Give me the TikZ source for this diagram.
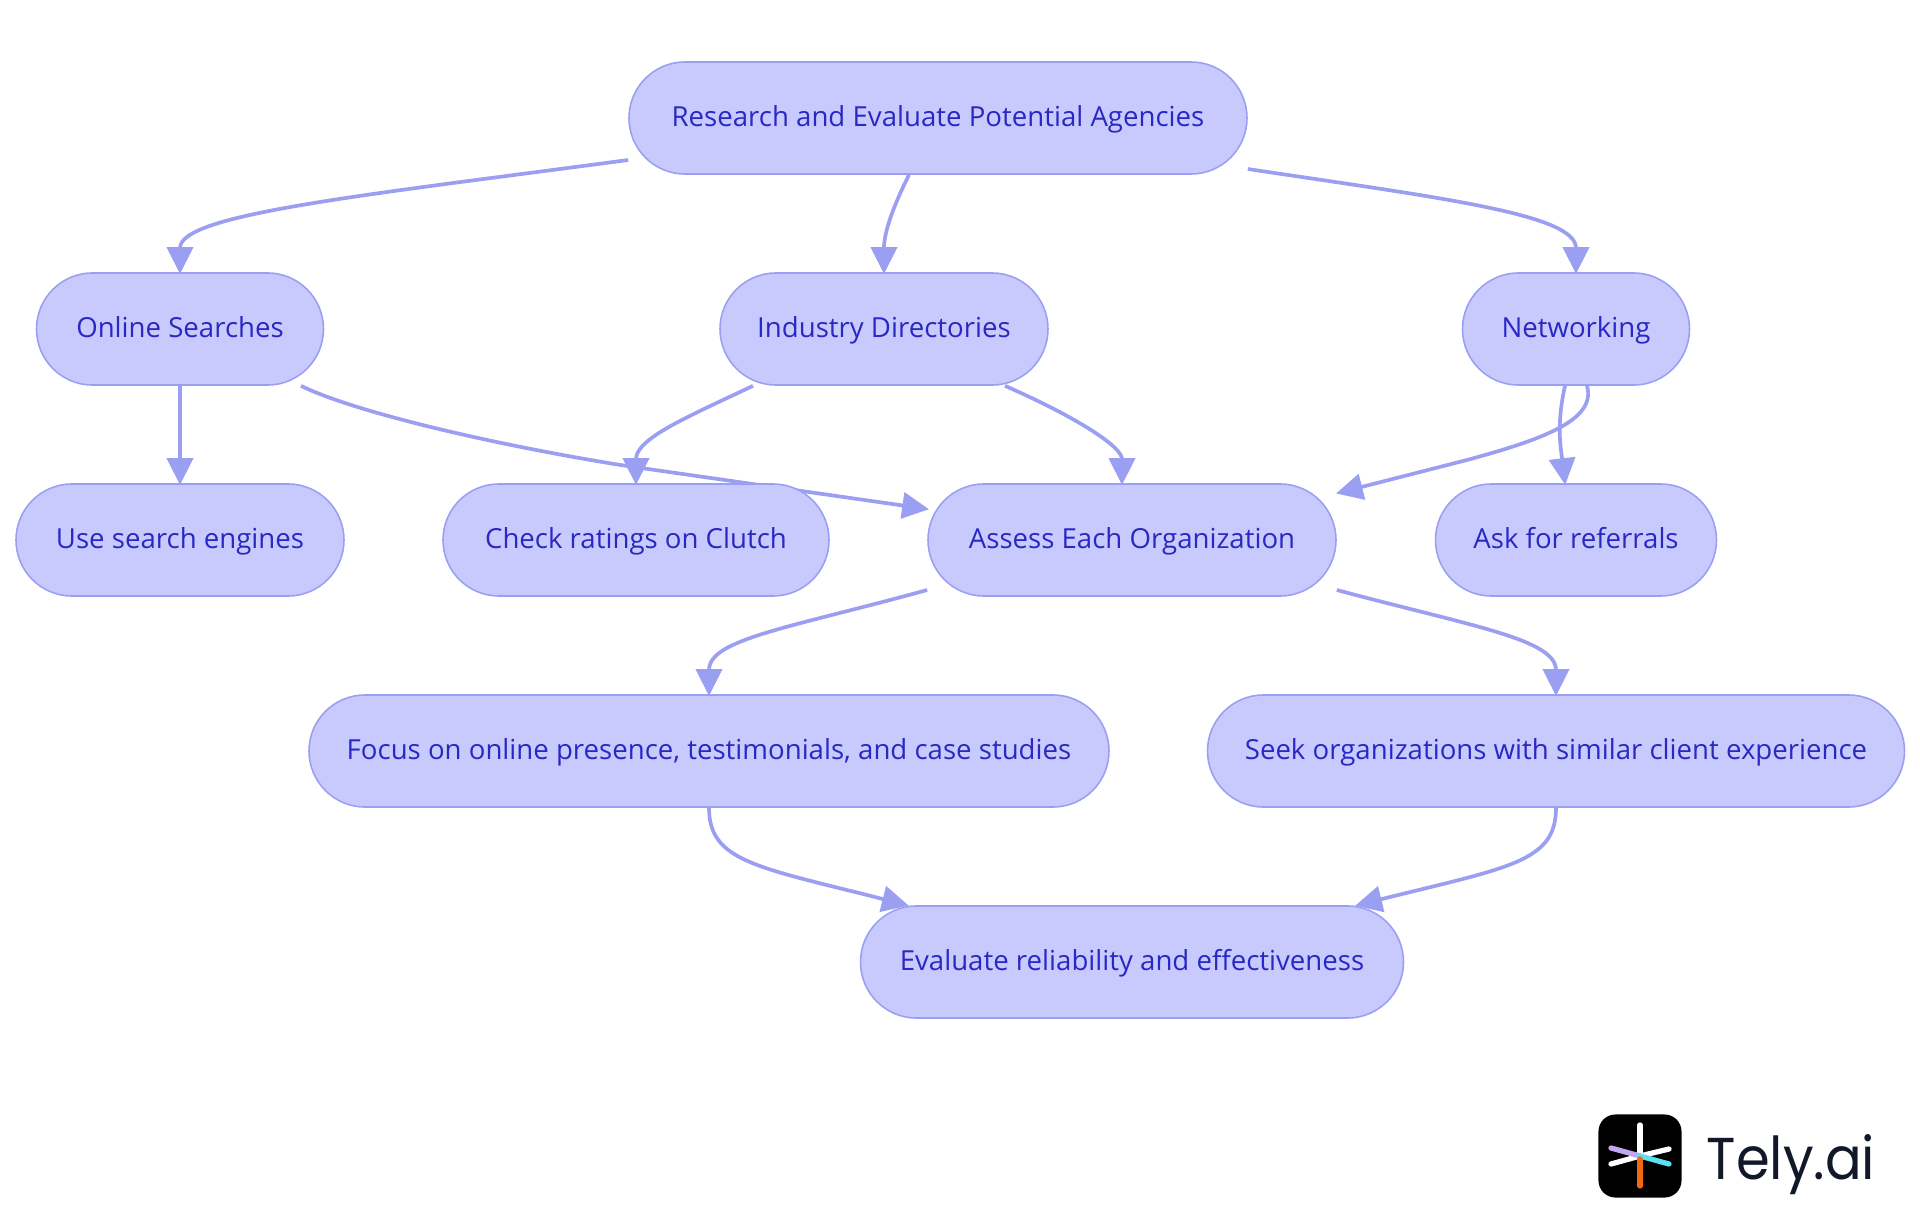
\documentclass[tikz,border=0pt]{standalone}
\usepackage{fontspec}
\setmainfont{Open Sans}
\newfontfamily\logofont[FakeStretch=0.92]{Poppins}
\usepackage{xcolor}
\usetikzlibrary{arrows.meta,backgrounds,calc,shapes.misc}
\definecolor{stepfill}{HTML}{C8CAFD}
\definecolor{stepline}{HTML}{9B9FF2}
\definecolor{steptext}{HTML}{2828C4}
\definecolor{logoink}{HTML}{111827}
\tikzset{
  stepbox/.style={rounded rectangle, draw=stepline, fill=stepfill, line width=0.45pt,
    text=steptext, inner sep=0pt, minimum height=1.12cm, text height=6.5pt, text depth=1.8pt},
  flowedge/.style={draw=stepline, line width=1.05pt, shorten >=-0.5pt,
    -{Triangle[length=7.6pt,width=7.4pt]}},
  spoke/.style={line width=1.5pt, line cap=round}
}

\begin{document}
\begin{tikzpicture}[x=0.01cm, y=-0.01cm, font=\fontsize{7.85}{9.5}\selectfont]
  \useasboundingbox (0,0) rectangle (1920,1215);

  \foreach \nm/\cx/\cy/\wdt/\lbl in {%
    root/938/118/618/{Research and Evaluate Potential Agencies},%
    online/180/329/287/{Online Searches},%
    industry/884/329/328/{Industry Directories},%
    networking/1576/329/227/{Networking},%
    engines/180/540/328/{Use search engines},%
    clutch/636/540/386/{Check ratings on Clutch},%
    assess/1132/540/408/{Assess Each Organization},%
    referrals/1576/540/281/{Ask for referrals},%
    presence/709/751/800/{Focus on online presence, testimonials, and case studies},%
    similar/1556/751/697/{Seek organizations with similar client experience},%
    reliable/1132/962/543/{Evaluate reliability and effectiveness}%
  }{
    \node[stepbox, minimum width=\wdt*0.01cm] (\nm) at (\cx,\cy) {\lbl};
  }

  \begin{scope}[on background layer]
    \draw[flowedge] ($(root.west)+(0,42)$) .. controls +(-270,36) and +(0,-58) .. (online.north);
    \draw[flowedge] ($(root.south)+(-29,0)$) .. controls +(-18,36) and +(0,-38) .. (industry.north);
    \draw[flowedge] ($(root.east)+(0,51)$) .. controls +(193,29) and +(0,-58) .. (networking.north);
    \draw[flowedge] (online.south) -- (engines.north);
    \draw[flowedge] ($(online.south)+(121,0)$) .. controls +(55,27) and +(-127,-20) .. (627,466) -- ($(assess.west)+(0,-31)$);
    \draw[flowedge] ($(industry.south)+(-131,0)$) .. controls +(-63,30) and +(0,-45) .. (clutch.north);
    \draw[flowedge] ($(industry.south)+(121,0)$) .. controls +(75,33) and +(0,-36) .. ($(assess.north)+(-10,0)$);
    \draw[flowedge] ($(networking.south)+(11,0)$) .. controls +(10,35) and +(73,-20) .. (1467,460) -- ($(assess.east)+(1,-47)$);
    \draw[flowedge] ($(networking.south)+(-11,0)$) .. controls +(-9,40) and +(-4,-34) .. ($(referrals.north)+(-11,0)$);
    \draw[flowedge] ($(assess.west)+(0,50)$) .. controls +(-138,38) and +(0,-55) .. (presence.north);
    \draw[flowedge] ($(assess.east)+(0,50)$) .. controls +(134,36) and +(0,-55) .. (similar.north);
    \draw[flowedge] (presence.south) .. controls +(0,54) and +(-149,-38) .. ($(reliable.north)+(-225,0)$);
    \draw[flowedge] (similar.south) .. controls +(0,54) and +(153,-38) .. ($(reliable.north)+(225,0)$);
  \end{scope}

  % logo
  \node[fill=black, rounded corners=0.17cm, minimum size=0.83cm, inner sep=0pt] (logomark) at (1640,1156) {};
  \draw[spoke, white] (logomark.center) -- +(0,-31);
  \draw[spoke, white] (logomark.center) -- +(-29,8);
  \draw[spoke, white] (logomark.center) -- +(29,-7);
  \draw[spoke, color={rgb,255:red,192;green,168;blue,240}] (logomark.center) -- +(-29,-8);
  \draw[spoke, color={rgb,255:red,92;green,224;blue,240}] (logomark.center) -- +(29,8);
  \draw[spoke, color={rgb,255:red,240;green,104;blue,16}] ($(logomark.center)+(0,3)$) -- +(0,27);
  \node[anchor=base west, inner sep=0pt, text=logoink, font=\logofont\fontsize{16.8}{20}\selectfont] (logotext) at (1706,1179) {Tely.ai};
\end{tikzpicture}
\end{document}
